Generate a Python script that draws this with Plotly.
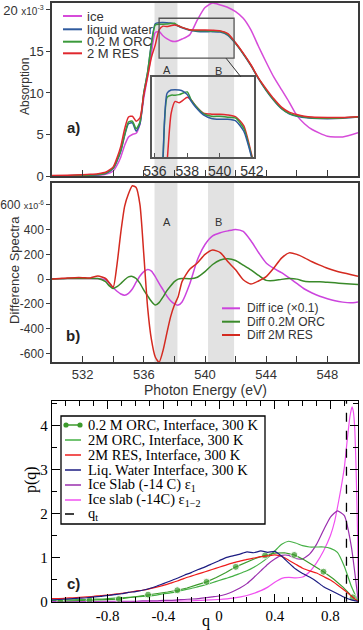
import plotly.graph_objects as go

W, H = 363, 630

# ---------------- Panel a: absorption (x10^-3) ----------------
e_abs = [530, 531, 532, 532.5, 533, 533.5, 534, 534.25, 534.5, 534.75, 535, 535.25, 535.5, 535.75,
         536, 536.25, 536.5, 536.75, 537, 537.25, 537.5, 537.75, 538, 538.25, 538.5, 539, 539.5,
         540, 540.5, 541, 541.5, 542, 542.5, 543, 543.5, 544, 544.5, 545, 545.5, 546, 546.5, 547,
         548, 549, 550]
abs_ice = [0.0, 0.02, 0.05, 0.07, 0.1, 0.2, 0.6, 1.3, 2.3, 3.7, 4.7, 5.0, 5.15, 6.3,
           9.4, 12.0, 14.8, 17.3, 17.4, 16.9, 16.55, 16.3, 16.2, 16.3, 16.5, 17.0, 18.8,
           20.3, 20.85, 20.6, 20.3, 19.8, 19.0, 17.6, 15.6, 13.7, 11.9, 10.4, 8.9, 7.3, 6.3, 5.6,
           4.8, 4.7, 5.2]
abs_liq = [0.0, 0.03, 0.08, 0.1, 0.15, 0.3, 0.9, 1.8, 3.0, 4.9, 6.3, 6.4, 5.4, 6.3,
           10.0, 12.5, 16.0, 18.35, 18.47, 18.48, 18.47, 18.42, 18.3, 18.05, 17.85, 17.55, 17.42,
           17.39, 17.39, 17.33, 16.95, 15.95, 14.7, 13.3, 11.7, 10.3, 9.1, 8.1, 7.5, 7.2, 7.05, 6.95,
           6.9, 6.95, 7.1]
abs_orc = [0.0, 0.04, 0.09, 0.12, 0.18, 0.33, 0.95, 1.9, 3.1, 5.0, 6.5, 6.6, 5.7, 6.5,
           10.0, 12.5, 15.9, 18.2, 18.28, 18.28, 18.3, 18.36, 18.4, 18.1, 17.9, 17.6, 17.5,
           17.5, 17.47, 17.43, 17.05, 16.0, 14.75, 13.35, 11.75, 10.35, 9.15, 8.15, 7.55, 7.25, 7.1, 7.0,
           6.95, 7.0, 7.1]
abs_res = [0.05, 0.08, 0.15, 0.2, 0.28, 0.45, 1.1, 2.2, 3.6, 5.7, 7.1, 7.2, 6.6, 7.0,
           9.8, 12.0, 14.3, 15.8, 17.6, 18.05, 18.0, 18.1, 18.2, 18.1, 17.9, 17.62, 17.58,
           17.58, 17.55, 17.48, 17.15, 16.05, 14.8, 13.4, 11.8, 10.5, 9.3, 8.3, 7.7, 7.4, 7.2, 7.1,
           7.05, 7.05, 7.15]

# ---------------- Panel b: difference spectra (x10^-6) ----------------
e_diff = [530, 530.5, 531, 531.5, 532, 532.5, 533, 533.5,
          533.75, 534, 534.25, 534.5, 534.75, 535, 535.25, 535.5, 535.75, 536, 536.25, 536.5,
          536.75, 537, 537.25, 537.5, 537.75, 538, 538.25, 538.5,
          539, 539.5, 540, 540.5, 541, 541.5, 542, 542.5, 543, 543.5, 544, 544.5, 545, 545.5,
          546, 546.5, 547, 547.5, 548, 548.5, 549, 549.5, 550]
diff_ice = [0, 3, 5, 5, 5, 5, 3, -5,
            -35, -70, -98, -120, -130, -115, -80, -25, 25, 60, 78, 65,
            20, -35, -85, -135, -175, -200, -210, -185,
            -40, 155, 280, 350, 375, 390, 402, 385, 310, 215, 130, 86, 52, 10,
            -35, -80, -112, -138, -158, -175, -186, -192, -184]
diff_orc = [0, 2, 4, 5, 5, 5, 5, -20,
            -55, -76, -60, -35, -5, 18, 22, 5, -35, -89, -135, -180,
            -210, -190, -145, -95, -55, -20, 0, 5,
            3, 15, 60, 118, 154, 165, 150, 113, 75, 30, -10, -12, -2, 4,
            0, -18, -22, -22, -26, -30, -35, -39, -43]
diff_res = [0, 5, 10, 12, 12, 10, 25, 5,
            -30, -65, 120, 380, 590, 690, 755, 740, 600, 200, -230, -490,
            -630, -672, -580, -440, -305, -210, -140, -20,
            80, 130, 200, 235, 215, 140, 75, -5, -40, -15, 20, 90, 170, 212,
            200, 172, 140, 113, 88, 68, 52, 38, 24]

# ---------------- Panel c: p(q) ----------------
q_grid = [-1.20, -1.15, -1.10, -1.05, -1.00, -0.95, -0.90, -0.85, -0.80, -0.75, -0.70, -0.65,
          -0.60, -0.55, -0.50, -0.45, -0.40, -0.35, -0.30, -0.25, -0.20, -0.15, -0.10, -0.05,
          0.00, 0.05, 0.10, 0.15, 0.20, 0.25, 0.30, 0.35, 0.40, 0.45, 0.50, 0.55, 0.60, 0.65,
          0.70, 0.75, 0.80, 0.85, 0.90, 0.95, 1.00]
p_liq = [0.04, 0.05, 0.06, 0.07, 0.08, 0.09, 0.11, 0.12, 0.14, 0.16, 0.18, 0.21,
         0.23, 0.26, 0.30, 0.35, 0.41, 0.47, 0.53, 0.60, 0.66, 0.73, 0.79, 0.86,
         0.93, 1.00, 1.04, 1.08, 1.13, 1.11, 1.15, 1.12, 1.14, 1.03, 0.88, 0.74, 0.64, 0.56,
         0.46, 0.34, 0.26, 0.18, 0.10, 0.04, 0.0]
p_res = [0.07, 0.07, 0.08, 0.09, 0.10, 0.11, 0.12, 0.14, 0.15, 0.17, 0.19, 0.21,
         0.24, 0.26, 0.29, 0.33, 0.37, 0.42, 0.47, 0.53, 0.58, 0.63, 0.68, 0.73,
         0.78, 0.83, 0.88, 0.92, 0.96, 0.99, 1.02, 1.04, 1.06, 1.03, 0.94, 0.85, 0.76, 0.70,
         0.65, 0.57, 0.49, 0.38, 0.26, 0.13, 0.0]
p_orc2m = [0.03, 0.03, 0.04, 0.04, 0.05, 0.05, 0.06, 0.06, 0.07, 0.08, 0.09, 0.10,
           0.11, 0.12, 0.13, 0.15, 0.18, 0.20, 0.23, 0.27, 0.30, 0.34, 0.38, 0.43,
           0.48, 0.53, 0.58, 0.64, 0.70, 0.78, 0.88, 1.00, 1.15, 1.30, 1.37, 1.33, 1.27, 1.24,
           1.24, 1.24, 1.21, 1.12, 0.80, 0.35, 0.0]
p_ice_e1 = [0.0, 0.0, 0.0, 0.0, 0.0, 0.0, 0.0, 0.01, 0.01, 0.01, 0.01, 0.01,
            0.01, 0.02, 0.02, 0.02, 0.03, 0.03, 0.04, 0.05, 0.06, 0.07, 0.09, 0.11,
            0.13, 0.17, 0.23, 0.31, 0.41, 0.55, 0.70, 0.85, 0.97, 1.05, 1.05, 0.98, 0.97, 1.08,
            1.30, 1.62, 1.92, 2.06, 1.95, 1.25, 0.0]
q_orc02 = [-1.14, -1.07, -1.00, -0.93, -0.86, -0.79, -0.72, -0.65, -0.58, -0.51, -0.44, -0.37,
           -0.30, -0.23, -0.16, -0.09, -0.02, 0.05, 0.12, 0.19, 0.26, 0.33, 0.40, 0.47,
           0.54, 0.61, 0.68, 0.75, 0.82, 0.89, 0.96, 1.00]
p_orc02 = [0.01, 0.02, 0.03, 0.03, 0.04, 0.05, 0.06, 0.09, 0.12, 0.16, 0.19, 0.22,
           0.26, 0.31, 0.38, 0.45, 0.55, 0.66, 0.79, 0.89, 0.98, 1.05, 1.10, 1.11,
           1.06, 0.95, 0.82, 0.68, 0.52, 0.33, 0.10, 0.0]
q_ice_e12 = [-1.2, -0.8, -0.4, -0.2, 0.0, 0.1, 0.2, 0.3, 0.35, 0.40, 0.45, 0.50, 0.55, 0.60,
             0.65, 0.70, 0.75, 0.80, 0.83, 0.86, 0.88, 0.90, 0.92, 0.94, 0.955, 0.965, 0.975,
             0.985, 0.995, 1.0]
p_ice_e12 = [0.0, 0.0, 0.01, 0.02, 0.05, 0.08, 0.14, 0.25, 0.33, 0.44, 0.53, 0.55, 0.54, 0.56,
             0.68, 0.88, 1.15, 1.50, 1.82, 2.30, 2.65, 3.05, 3.65, 4.20, 4.42, 4.30, 3.90,
             2.90, 1.50, 0.0]
q_t = 0.915

band_a = (536.7, 538.2)
band_b = (540.2, 541.9)

# ---------------- styles ----------------
SANS = "Liberation Sans, Arial, sans-serif"
SERIF = "Liberation Serif, Times New Roman, serif"
C_ICE, C_LIQ, C_ORC, C_RES = "#d64bd9", "#2f5a9e", "#3b9a3b", "#e0282e"
C_DICE, C_DORC, C_DRES = "#cc44dd", "#3a8a2a", "#d42a20"
C_C_ORC02, C_C_ORC2M, C_C_RES, C_C_LIQ, C_C_E1, C_C_E12 = "#3c9a2c", "#44b044", "#ee1c1c", "#1c1c82", "#9a2fae", "#f050f0"


def px(x):
    return x / W


def py(y):
    return 1 - y / H


fig = go.Figure()
sp = dict(mode="lines", line_shape="spline", showlegend=False, hoverinfo="skip")

# panel a
for y, c in [(abs_ice, C_ICE), (abs_liq, C_LIQ), (abs_orc, C_ORC), (abs_res, C_RES)]:
    fig.add_trace(go.Scatter(x=e_abs, y=y, line=dict(color=c, width=1.5, smoothing=0.6), xaxis="x", yaxis="y", **sp))
# inset
for y, c in [(abs_res, C_RES), (abs_orc, C_ORC), (abs_liq, C_LIQ)]:
    fig.add_trace(go.Scatter(x=e_abs, y=y, line=dict(color=c, width=1.5, smoothing=0.6), xaxis="x3", yaxis="y3", **sp))
# panel b
for y, c in [(diff_ice, C_DICE), (diff_orc, C_DORC), (diff_res, C_DRES)]:
    fig.add_trace(go.Scatter(x=e_diff, y=y, line=dict(color=c, width=1.5, smoothing=0.6), xaxis="x2", yaxis="y2", **sp))
# panel c
fig.add_trace(go.Scatter(x=q_ice_e12, y=p_ice_e12, line=dict(color=C_C_E12, width=1.2, smoothing=0.5), xaxis="x4", yaxis="y4", **sp))
fig.add_trace(go.Scatter(x=q_grid, y=p_ice_e1, line=dict(color=C_C_E1, width=1.2, smoothing=0.5), xaxis="x4", yaxis="y4", **sp))
fig.add_trace(go.Scatter(x=q_grid, y=p_orc2m, line=dict(color=C_C_ORC2M, width=1.2, smoothing=0.5), xaxis="x4", yaxis="y4", **sp))
dot_sizes = [7 if i % 3 == 0 else 0 for i in range(len(q_orc02))]
fig.add_trace(go.Scatter(x=q_orc02, y=p_orc02, mode="lines+markers", line=dict(color=C_C_ORC02, width=1.2),
                         marker=dict(size=dot_sizes, color=C_C_ORC02), xaxis="x4", yaxis="y4",
                         showlegend=False, hoverinfo="skip"))
fig.add_trace(go.Scatter(x=q_grid, y=p_res, line=dict(color=C_C_RES, width=1.2, smoothing=0.5), xaxis="x4", yaxis="y4", **sp))
fig.add_trace(go.Scatter(x=q_grid, y=p_liq, line=dict(color=C_C_LIQ, width=1.2, smoothing=0.5), xaxis="x4", yaxis="y4", **sp))

frame_ab = dict(showline=True, linecolor="#3a3a3a", linewidth=1.5, mirror=True, showgrid=False, zeroline=False,
                automargin=False)
frame_c = dict(showline=True, linecolor="black", linewidth=1.3, mirror="allticks", showgrid=False, zeroline=False,
               automargin=False)
tfont_ab = dict(family=SANS, size=13, color="#333")
tfont_b = dict(family=SANS, size=12, color="#333")
tfont_c = dict(family=SERIF, size=15, color="black")
SMALL_A = '<span style="font-size:10px">%s</span>'
SMALL_B = '<span style="font-size:9px">%s</span>'

fig.update_layout(
    width=W, height=H, margin=dict(l=0, r=0, t=0, b=0, autoexpand=False),
    paper_bgcolor="white", plot_bgcolor="rgba(0,0,0,0)", showlegend=False,
    xaxis=dict(domain=[px(52), px(358)], anchor="y", range=[530, 550], tick0=530, dtick=2,
               ticks="inside", ticklen=6, tickcolor="#3a3a3a", showticklabels=False, **frame_ab),
    yaxis=dict(domain=[py(176), py(3)], anchor="x", range=[0, 20.84],
               tickvals=[0, 5, 10, 15, 20],
               ticktext=["0", "5", "10", "15", "20 " + SMALL_A % "x10<sup>-3</sup>"],
               ticks="outside", ticklen=4, tickcolor="#3a3a3a", tickfont=tfont_ab, **frame_ab),
    xaxis2=dict(domain=[px(52), px(358)], anchor="y2", range=[530, 550],
                tickvals=[532, 536, 540, 544, 548], ticks="inside", ticklen=6, tickcolor="#3a3a3a",
                minor=dict(dtick=2, tick0=530, ticks="inside", ticklen=6, tickcolor="#3a3a3a"),
                tickfont=tfont_ab, **frame_ab),
    yaxis2=dict(domain=[py(362), py(183)], anchor="x2", range=[-670, 777],
                tickvals=[-600, -400, -200, 0, 200, 400, 600],
                ticktext=["-600", "-400", "-200", "0", "200", "400", "600 " + SMALL_B % "x10<sup>-6</sup>"],
                ticks="outside", ticklen=4, tickcolor="#3a3a3a", tickfont=tfont_b, **frame_ab),
    xaxis3=dict(domain=[px(151.7), px(254.3)], anchor="y3", range=[535.8, 542.15],
                tickvals=[536, 538, 540, 542], ticks="inside", ticklen=4, tickcolor="#555",
                showline=True, linecolor="#555", linewidth=1.5, mirror=True, showgrid=False, zeroline=False,
                automargin=False, tickfont=dict(family=SANS, size=14, color="#333")),
    yaxis3=dict(domain=[py(157), py(77)], anchor="x3", range=[16.0, 18.95], showticklabels=False, ticks="",
                showline=True, linecolor="#555", linewidth=1.5, mirror=True, showgrid=False, zeroline=False,
                automargin=False),
    xaxis4=dict(domain=[px(52), px(358.3)], anchor="y4", range=[-1.2, 1.0],
                tickvals=[-0.8, -0.4, 0, 0.4, 0.8], ticktext=["-0.8", "-0.4", "0", "0.4", "0.8"],
                ticks="inside", ticklen=8, tickcolor="black",
                minor=dict(dtick=0.1, tick0=0, ticks="inside", ticklen=5, tickcolor="black"),
                tickfont=tfont_c, **frame_c),
    yaxis4=dict(domain=[py(601.7), py(401)], anchor="x4", range=[0, 4.55], dtick=1,
                ticks="inside", ticklen=8, tickcolor="black",
                minor=dict(dtick=0.5, ticks="inside", ticklen=5, tickcolor="black"),
                tickfont=tfont_c, **frame_c),
)

shapes = []
for (x0, x1) in (band_a, band_b):
    for xr, yr in (("x", "y domain"), ("x2", "y2 domain")):
        shapes.append(dict(type="rect", xref=xr, yref=yr, x0=x0, x1=x1, y0=0, y1=1,
                           fillcolor="#e2e2e2", line=dict(width=0), layer="below"))
# zoom rectangle and connector in panel a
shapes.append(dict(type="rect", xref="x", yref="y", x0=537.0, x1=541.9, y0=14.2, y1=19.0,
                   line=dict(color="#555", width=1.3)))
shapes.append(dict(type="line", xref="x", yref="y", x0=541.37, y0=14.2, x1=542.35, y1=11.93,
                   line=dict(color="#333", width=1)))
# q_t dashed line
shapes.append(dict(type="line", xref="x4", yref="y4 domain", x0=q_t, x1=q_t, y0=0, y1=1,
                   line=dict(color="black", width=1.3, dash="dash")))

annotations = []


def label(text, x, y, size, family=SANS, color="#333", anchor="center", bold=False, angle=0):
    annotations.append(dict(text=("<b>%s</b>" % text) if bold else text, x=px(x), y=py(y), xref="paper",
                            yref="paper", showarrow=False, xanchor=anchor, yanchor="middle", textangle=angle,
                            font=dict(family=family, size=size, color=color)))


# panel a legend
for text, c, yy in [("ice", C_ICE, 16), ("liquid water", C_LIQ, 29.3), ("0.2 M ORC", C_ORC, 41.7), ("2 M RES", C_RES, 53.3)]:
    shapes.append(dict(type="line", xref="paper", yref="paper", x0=px(63), x1=px(82), y0=py(yy), y1=py(yy),
                       line=dict(color=c, width=2)))
    label(text, 85, yy, 13, anchor="left")
# panel b legend
for text, c, yy in [("Diff ice (×0.1)", C_DICE, 308.3), ("Diff 0.2M ORC", C_DORC, 321.7), ("Diff 2M RES", C_DRES, 335)]:
    shapes.append(dict(type="line", xref="paper", yref="paper", x0=px(222), x1=px(240), y0=py(yy), y1=py(yy),
                       line=dict(color=c, width=2)))
    label(text, 245, yy, 12, anchor="left")
# panel c legend
shapes.append(dict(type="rect", xref="paper", yref="paper", x0=px(61), x1=px(265), y0=py(524), y1=py(416),
                   line=dict(color="black", width=1.3), fillcolor="white"))
c_entries = [("0.2 M ORC, Interface, 300 K", C_C_ORC02, 425, "solid"),
             ("2M ORC, Interface, 300 K", C_C_ORC2M, 440, "solid"),
             ("2M RES, Interface, 300 K", C_C_RES, 455, "solid"),
             ("Liq. Water Interface, 300 K", C_C_LIQ, 470, "solid"),
             ("Ice Slab (-14 C) ε<sub>1</sub>", C_C_E1, 485, "solid"),
             ("Ice slab (-14C) ε<sub>1−2</sub>", C_C_E12, 500, "solid"),
             ("q<sub>t</sub>", "black", 514, "dash")]
for text, c, yy, dash in c_entries:
    shapes.append(dict(type="line", xref="paper", yref="paper", x0=px(65), x1=px(81), y0=py(yy), y1=py(yy),
                       line=dict(color=c, width=1.5, dash=dash)))
    label(text, 86, yy, 14.5, family=SERIF, color="black", anchor="left")
for cx in (66, 80):
    shapes.append(dict(type="circle", xref="paper", yref="paper", x0=px(cx - 2.6), x1=px(cx + 2.6),
                       y0=py(425 + 2.6), y1=py(425 - 2.6), fillcolor=C_C_ORC02, line=dict(width=0)))

# titles and panel labels
label("Absorption", 25, 87, 12, angle=-90)
label("Difference Spectra", 14, 270, 13, angle=-90)
label("Photon Energy (eV)", 205, 390, 14)
label("p(q)", 31, 480, 16, family=SERIF, color="black", angle=-90)
label("q", 206, 621, 16, family=SERIF, color="black")
label("a)", 73, 128, 15, color="#222", bold=True)
label("b)", 73, 335, 15, color="#222", bold=True)
label("c)", 73, 583, 15, color="#222", bold=True)
label("A", 166.7, 70, 11)
label("B", 218.3, 70.7, 11)
label("A", 166.7, 222.3, 11)
label("B", 218.3, 222.3, 11)

fig.update_layout(shapes=shapes, annotations=annotations)
fig.write_html("out.html", config={"displayModeBar": False},
               post_script="document.body.style.margin='0';document.body.style.overflow='hidden';")
